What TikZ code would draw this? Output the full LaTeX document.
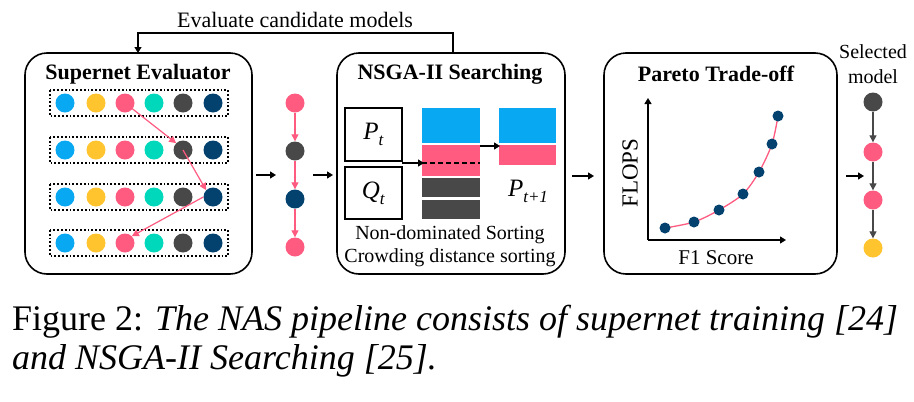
\documentclass[tikz,border=0pt]{standalone}
\usepackage{fontspec}
\setmainfont{Liberation Serif}
\usetikzlibrary{arrows.meta}
\definecolor{cb}{HTML}{08A8F2}
\definecolor{cy}{HTML}{FFC42E}
\definecolor{cp}{HTML}{FF5A80}
\definecolor{ct}{HTML}{00D8BC}
\definecolor{cg}{HTML}{484848}
\definecolor{cn}{HTML}{03426E}
\newcommand{\sym}[2]{\textit{#1}\raisebox{-6pt}{\fontsize{17}{17}\selectfont\textit{#2}}}
\begin{document}
\begin{tikzpicture}[x=1pt,y=-1pt,
  box/.style={draw,line width=1.6pt,rounded corners=22pt},
  row/.style={draw,dotted,line width=1.8pt},
  dot/.style={circle,fill=#1,inner sep=0pt,minimum size=19pt},
  pd/.style={circle,fill=cn,inner sep=0pt,minimum size=11pt},
  blk/.style={-{Triangle[length=6pt,width=7pt]},line width=1.4pt},
  pk/.style={-{Triangle[length=7pt,width=7pt]},line width=1.2pt,draw=cp},
  gy/.style={-{Triangle[length=7pt,width=7pt]},line width=1.3pt,draw=cg},
  ttl/.style={font=\bfseries\fontsize{22}{24}\selectfont},
  txt/.style={font=\fontsize{21}{23}\selectfont}]
\useasboundingbox (0,0) rectangle (914,402);
% boxes
\draw[box] (25,53) rectangle (252,274);
\draw[box] (337,53) rectangle (565,274);
\draw[box] (604,53) rectangle (837,274);
\node[ttl] (t1) at (138,74) {Supernet Evaluator};
\node[ttl] (t2) at (450,74) {NSGA-II Searching};
\node[ttl] (t3) at (716,74) {Pareto Trade-off};
% feedback
\node[txt,font=\fontsize{22}{24}\selectfont] (ev) at (295,20) {Evaluate candidate models};
\coordinate (fa) at (453,53);
\coordinate (fb) at (138,53);
\draw[blk,line width=1.2pt] (fa) -- (453,33) -- (138,33) -- (fb);
% rows
\foreach \r/\y in {1/103,2/150,3/197,4/243}{
  \draw[row] (50,\y-13) rectangle (228,\y+13);
  \foreach \i/\x/\c in {1/65/cb,2/96/cy,3/125/cp,4/154/ct,5/183/cg,6/213/cn}
    \node[dot=\c] (r\r c\i) at (\x,\y) {};
}
\draw[pk] (r1c3.center) -- (r2c5.north west);
\draw[pk] (r2c5.center) -- (r3c6.north west);
\draw[pk] (r3c6.west) -- (r4c3.north east);
% middle chain
\node[dot=cp] (m1) at (295,103) {};
\node[dot=cg] (m2) at (295,151) {};
\node[dot=cn] (m3) at (295,199) {};
\node[dot=cp] (m4) at (295,247) {};
\draw[pk] (m1) -- (m2); \draw[pk] (m2) -- (m3); \draw[pk] (m3) -- (m4);
\coordinate (a1s) at (256,175); \coordinate (a1e) at (276,175);
\draw[blk] (a1s) -- (a1e);
\coordinate (a2s) at (313,175); \coordinate (a2e) at (333,175);
\draw[blk] (a2s) -- (a2e);
% NSGA
\node[draw,line width=1.5pt,minimum width=57pt,minimum height=53pt,font=\fontsize{25}{27}\selectfont] (pt) at (373.5,134.5) {\sym{P}{t}};
\node[draw,line width=1.5pt,minimum width=57pt,minimum height=52pt,font=\fontsize{25}{27}\selectfont] (qt) at (373.5,193) {\sym{Q}{t}};
\fill[cb] (422,108) rectangle (480,143);
\fill[cp] (422,145) rectangle (480,176);
\fill[cg] (422,178) rectangle (480,197);
\fill[cg] (422,200) rectangle (480,219);
\draw[line width=1.8pt,dash pattern=on 5pt off 3pt] (422,163) -- (480,163);
\coordinate (s1) at (402,163); \coordinate (s2) at (424,163);
\draw[blk] (s1) -- (s2);
\fill[cb] (499,108) rectangle (556,143);
\fill[cp] (499,145) rectangle (556,165);
\coordinate (s3) at (480,146); \coordinate (s4) at (500,146);
\draw[blk] (s3) -- (s4);
\node[font=\fontsize{25}{27}\selectfont] (pt1) at (528,191) {\sym{P}{t+1}};
\node[txt,font=\fontsize{20}{22}\selectfont] (nd) at (450,235) {Non-dominated Sorting};
\node[txt,font=\fontsize{20}{22}\selectfont] (cd) at (450,258) {Crowding distance sorting};
\coordinate (a3s) at (572,176); \coordinate (a3e) at (594,176);
\draw[blk] (a3s) -- (a3e);
% Pareto
\coordinate (o) at (648,240);
\coordinate (ya) at (648,98);
\coordinate (xa) at (786,240);
\draw[blk] (o) -- (ya);
\draw[blk] (o) -- (xa);
\node[txt,rotate=90,font=\fontsize{23}{25}\selectfont] (fl) at (630,173) {FLOPS};
\node[txt] (f1) at (716,258) {F1 Score};
\draw[cp,line width=1.3pt] plot[smooth] coordinates {(665,228) (694,222) (719,210) (743,194) (759,172) (772,144) (778,116)};
\foreach \k/\x/\y in {1/665/228,2/694/222,3/719/210,4/743/194,5/759/172,6/772/144,7/778/116}
  \node[pd] (p\k) at (\x,\y) {};
% selected
\node[txt,align=center,font=\fontsize{20}{25}\selectfont] (sm) at (873,64) {Selected\\model};
\node[dot=cg] (s1n) at (873,102) {};
\node[dot=cp] (s2n) at (873,152) {};
\node[dot=cp] (s3n) at (873,200) {};
\node[dot=cy] (s4n) at (873,248) {};
\draw[gy] (s1n) -- (s2n); \draw[gy] (s2n) -- (s3n); \draw[gy] (s3n) -- (s4n);
\coordinate (a4s) at (846,176); \coordinate (a4e) at (864,176);
\draw[blk] (a4s) -- (a4e);
% caption
\node[anchor=west,inner sep=0pt,font=\fontsize{36}{40}\selectfont] (c1) at (12,322) {Figure 2: \textit{The NAS pipeline consists of supernet training [24]}};
\node[anchor=west,inner sep=0pt,font=\fontsize{36}{40}\selectfont] (c2) at (12,361) {\textit{and NSGA-II Searching [25].}};
\end{tikzpicture}
\end{document}
